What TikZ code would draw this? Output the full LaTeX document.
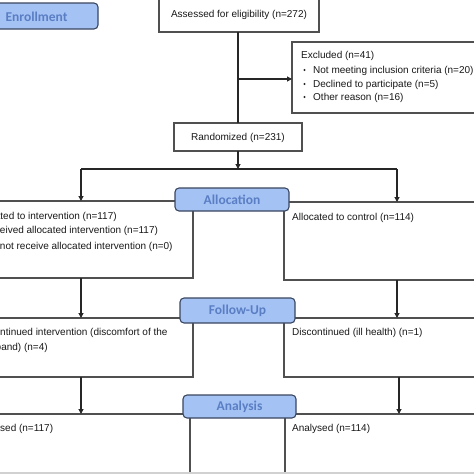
\documentclass[tikz,border=0pt]{standalone}
\usepackage{fontspec}
\setmainfont{Liberation Sans}
\newfontfamily\labelfont{Carlito}
\usetikzlibrary{arrows.meta}
\definecolor{lblfill}{HTML}{A4C2F4}
\definecolor{lbltext}{HTML}{5A7EC4}
\definecolor{lbldraw}{HTML}{3A4660}
\definecolor{boxdraw}{HTML}{505050}
\tikzset{
  boxrect/.style={draw=boxdraw, line width=1.1pt, fill=white},
  lblbox/.style={draw=lbldraw, line width=1.1pt, fill=lblfill, rounded corners=4pt},
  lbltxt/.style={text=lbltext, font=\labelfont\bfseries\fontsize{13.5}{15}\selectfont, inner sep=0pt},
  txt/.style={anchor=base west, inner sep=0pt, font=\fontsize{10}{12}\selectfont, text=black!90},
  conn/.style={draw=black!85, line width=1.1pt},
  arr/.style={conn, -{Triangle[length=5pt,width=5pt]}},
  bul/.style={circle, fill=black!85, inner sep=0pt, minimum size=2.4pt}
}
\begin{document}
\begin{tikzpicture}[x=1pt,y=-1pt]
\useasboundingbox (0,0) rectangle (474,474);
\clip (0,0) rectangle (474,474);
% coordinates for boxes
\coordinate (assA) at (159,-4); \coordinate (assB) at (319,32);
\coordinate (excA) at (292,42); \coordinate (excB) at (500,113);
\coordinate (ranA) at (174,123); \coordinate (ranB) at (302,151);
\coordinate (alLA) at (-34,201); \coordinate (alLB) at (193,278);
\coordinate (alRA) at (284,202); \coordinate (alRB) at (500,280);
\coordinate (fuLA) at (-34,318); \coordinate (fuLB) at (193,377);
\coordinate (fuRA) at (284,318); \coordinate (fuRB) at (500,377);
\coordinate (anLA) at (-34,414); \coordinate (anLB) at (190,490);
\coordinate (anRA) at (285,414); \coordinate (anRB) at (500,490);
% boxes
\draw[boxrect] (assA) rectangle (assB);
\draw[boxrect] (excA) rectangle (excB);
\draw[boxrect] (ranA) rectangle (ranB);
\draw[boxrect] (alLA) rectangle (alLB);
\draw[boxrect] (alRA) rectangle (alRB);
\draw[boxrect] (fuLA) rectangle (fuLB);
\draw[boxrect] (fuRA) rectangle (fuRB);
\draw[boxrect] (anLA) rectangle (anLB);
\draw[boxrect] (anRA) rectangle (anRB);
% texts
\node[txt, anchor=base] (tass) at (239,17.6) {Assessed for eligibility (n=272)};
\node[txt] (texc) at (301,58.6) {Excluded (n=41)};
\node[bul] (b1) at (304.5,70) {};
\node[txt] (te1) at (313,73.6) {Not meeting inclusion criteria (n=20)};
\node[bul] (b2) at (304.5,84) {};
\node[txt] (te2) at (313,87.6) {Declined to participate (n=5)};
\node[bul] (b3) at (304.5,97) {};
\node[txt] (te3) at (313,100.6) {Other reason (n=16)};
\node[txt, anchor=base] (tran) at (238,140.6) {Randomized (n=231)};
\node[txt] (tal1) at (-27,219.6) {Allocated to intervention (n=117)};
\node[bul] (b4) at (-22,230) {};
\node[txt] (tal2) at (-18,233.6) {Received allocated intervention (n=117)};
\node[bul] (b5) at (-22,246) {};
\node[txt] (tal3) at (-18,249.6) {Did not receive allocated intervention (n=0)};
\node[txt] (tar1) at (292,220.6) {Allocated to control (n=114)};
\node[txt] (tfl1) at (-25,335.6) {Discontinued intervention (discomfort of the};
\node[txt] (tfl2) at (-25,350.6) {wristband) (n=4)};
\node[txt] (tfr1) at (292,335.6) {Discontinued (ill health) (n=1)};
\node[txt] (tanl) at (-25,431.6) {Analysed (n=117)};
\node[txt] (tanr) at (292,431.6) {Analysed (n=114)};
% connectors
\coordinate (j1) at (238,79);
\coordinate (j2) at (238,169);
\coordinate (hL) at (81,169);
\coordinate (hR) at (397,169);
\draw[conn] (238,32) -- (238,123);
\draw[arr] (j1) -- (292,79);
\draw[arr] (238,151) -- (j2);
\draw[conn] (hL) -- (hR);
\draw[arr] (hL) -- (81,201);
\draw[arr] (hR) -- (397,202);
\draw[arr] (81,278) -- (81,318);
\draw[arr] (397,280) -- (397,318);
\draw[arr] (81,377) -- (81,414);
\draw[arr] (399,377) -- (399,414);
% labels
\draw[lblbox] (-25,3) rectangle (98,29);
\node[lbltxt] (lenr) at (36.5,16.5) {Enrollment};
\draw[lblbox] (175,188) rectangle (289,211);
\node[lbltxt] (lall) at (232,200) {Allocation};
\draw[lblbox] (180,298) rectangle (295,323);
\node[lbltxt] (lfol) at (237.5,311) {Follow-Up};
\draw[lblbox] (183,395) rectangle (296,418);
\node[lbltxt] (lana) at (239.5,407) {Analysis};
% bottom strip
\fill[black!18] (0,472) rectangle (474,474);
\end{tikzpicture}
\end{document}
